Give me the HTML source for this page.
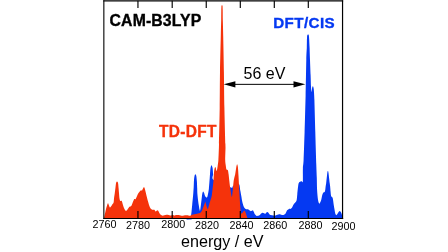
<!DOCTYPE html>
<html><head><meta charset="utf-8"><title>CAM-B3LYP spectrum</title>
<style>
html,body{margin:0;padding:0;background:#fff;}
body{width:448px;height:252px;overflow:hidden;font-family:"Liberation Sans",sans-serif;}
svg{display:block;}
text{font-family:"Liberation Sans",sans-serif;}
</style></head><body>
<svg width="448" height="252" viewBox="0 0 448 252">
<rect width="448" height="252" fill="#fff"/>
<path fill="#0539f2" d="M190.5,218.2C190.55,217.97 190.77,217.33 190.9,216.5C191.03,215.67 191.33,213.57 191.5,212.0C191.67,210.43 192.01,206.62 192.2,204.7C192.39,202.78 192.75,199.16 192.9,197.6C193.05,196.04 193.19,194.40 193.3,193.0C193.41,191.60 193.61,188.83 193.7,187.1C193.79,185.37 193.88,181.52 194.0,180.0C194.12,178.48 194.41,176.46 194.6,175.7C194.79,174.94 195.17,174.26 195.4,174.3C195.63,174.34 196.10,175.05 196.3,176.0C196.50,176.95 196.78,179.72 196.9,181.4C197.02,183.08 197.13,186.92 197.2,188.6C197.27,190.28 197.29,192.52 197.4,194.0C197.51,195.48 197.83,198.27 198.0,199.7C198.17,201.13 198.51,203.46 198.7,204.7C198.89,205.94 199.23,208.19 199.4,209.0C199.57,209.81 199.85,210.89 200.0,210.8C200.15,210.71 200.34,209.39 200.5,208.3C200.66,207.21 201.03,204.03 201.2,202.6C201.37,201.17 201.67,198.72 201.8,197.6C201.93,196.48 202.08,194.91 202.2,194.2C202.32,193.49 202.57,192.65 202.7,192.3C202.83,191.95 203.01,191.51 203.2,191.6C203.39,191.69 203.86,192.44 204.1,193.0C204.34,193.56 204.75,195.23 205.0,195.8C205.25,196.37 205.75,197.07 206.0,197.3C206.25,197.53 206.69,197.67 206.9,197.5C207.11,197.33 207.41,196.67 207.6,196.0C207.79,195.33 208.13,193.49 208.3,192.5C208.47,191.51 208.71,190.45 208.9,188.6C209.09,186.75 209.51,181.08 209.7,178.6C209.89,176.12 210.13,171.68 210.3,170.0C210.47,168.32 210.81,166.61 211.0,166.0C211.19,165.39 211.49,165.15 211.7,165.4C211.91,165.65 212.41,166.71 212.6,167.9C212.79,169.09 212.97,172.69 213.1,174.3C213.23,175.91 211.21,178.23 213.6,180.0C215.99,181.77 228.41,186.80 231.0,187.6C233.59,188.40 231.95,186.48 233.0,186.0C234.05,185.52 237.93,183.39 238.9,184.0C239.87,184.61 239.98,189.00 240.3,190.6C240.62,192.20 241.03,194.52 241.3,196.0C241.57,197.48 241.98,200.30 242.3,201.7C242.62,203.10 243.26,205.54 243.7,206.5C244.14,207.46 245.03,208.53 245.6,208.9C246.17,209.27 247.49,209.11 248.0,209.3C248.51,209.49 249.01,210.05 249.4,210.3C249.79,210.55 250.45,211.20 250.9,211.2C251.35,211.20 252.43,210.23 252.8,210.3C253.17,210.37 253.39,211.13 253.7,211.7C254.01,212.27 254.71,214.04 255.1,214.6C255.49,215.16 256.17,215.74 256.6,215.9C257.03,216.06 257.87,215.91 258.3,215.8C258.73,215.69 259.41,215.39 259.8,215.1C260.19,214.81 260.81,213.91 261.2,213.6C261.59,213.29 262.33,212.84 262.7,212.8C263.07,212.76 263.67,213.15 264.0,213.3C264.33,213.45 264.88,213.99 265.2,213.9C265.52,213.81 266.11,212.84 266.4,212.6C266.69,212.36 267.13,212.07 267.4,212.1C267.67,212.13 268.13,212.51 268.4,212.8C268.67,213.09 269.11,213.99 269.4,214.3C269.69,214.61 270.12,214.94 270.6,215.1C271.08,215.26 272.33,215.46 273.0,215.5C273.67,215.54 275.00,215.51 275.6,215.4C276.20,215.29 277.03,214.85 277.5,214.7C277.97,214.55 278.69,214.31 279.1,214.3C279.51,214.29 280.21,214.49 280.6,214.6C280.99,214.71 281.61,215.06 282.0,215.1C282.39,215.14 283.05,215.07 283.5,214.9C283.95,214.73 284.92,214.41 285.4,213.8C285.88,213.19 286.67,210.91 287.1,210.3C287.53,209.69 288.12,209.41 288.6,209.2C289.08,208.99 290.23,208.94 290.7,208.7C291.17,208.46 291.71,207.95 292.1,207.4C292.49,206.85 293.21,205.21 293.6,204.6C293.99,203.99 294.63,203.28 295.0,202.8C295.37,202.32 296.13,201.72 296.4,201.0C296.67,200.28 296.88,198.33 297.0,197.4C297.12,196.47 297.11,195.75 297.3,194.0C297.49,192.25 298.11,185.90 298.4,184.3C298.69,182.70 299.19,182.39 299.5,182.0C299.81,181.61 300.37,181.48 300.7,181.4C301.03,181.32 301.71,181.40 302.0,181.4C302.29,181.40 302.78,183.19 302.9,181.4C303.02,179.61 302.81,170.85 302.9,168.0C302.99,165.15 303.37,164.80 303.6,160.0C303.83,155.20 304.33,140.53 304.6,132.0C304.87,123.47 305.37,105.60 305.6,96.0C305.83,86.40 306.15,66.40 306.3,60.0C306.45,53.60 306.66,50.67 306.8,48.0C306.84,45.33 306.90,41.60 306.9,40.0C307.00,38.40 307.07,36.71 307.1,36.0C307.23,35.29 307.37,34.89 307.6,34.7C307.73,34.51 308.31,34.43 308.5,34.6C308.69,34.77 308.86,35.28 308.9,36.0C309.04,36.72 309.12,38.40 309.2,40.0C309.28,41.60 309.44,45.33 309.6,48.0C309.66,50.67 309.86,56.40 310.0,60.0C310.14,63.60 310.47,71.67 310.6,75.0C310.73,78.33 310.86,82.93 310.9,85.0C311.04,87.07 311.21,89.57 311.3,90.5C311.39,91.43 311.56,92.20 311.6,92.0C311.74,91.80 311.90,89.69 312.0,89.0C312.10,88.31 312.28,87.16 312.4,86.8C312.52,86.44 312.77,86.25 312.9,86.3C313.03,86.35 313.28,86.77 313.4,87.2C313.52,87.63 313.71,88.59 313.8,89.5C313.89,90.41 314.02,92.60 314.1,94.0C314.18,95.40 314.24,94.93 314.4,100.0C314.56,105.07 315.05,123.33 315.3,132.0C315.55,140.67 316.10,158.87 316.3,165.0C316.50,171.13 316.69,174.67 316.8,178.0C316.91,181.33 316.94,187.11 317.1,190.0C317.26,192.89 317.69,197.87 318.0,199.7C318.31,201.53 318.99,203.62 319.4,203.7C319.81,203.78 320.73,201.42 321.1,200.3C321.47,199.18 321.91,196.33 322.2,195.3C322.49,194.27 322.97,193.05 323.3,192.6C323.63,192.15 324.43,192.30 324.7,191.9C324.97,191.50 325.17,190.39 325.3,189.6C325.43,188.81 325.58,186.88 325.7,186.0C325.82,185.12 325.99,184.73 326.2,183.0C326.41,181.27 327.07,174.59 327.3,173.0C327.53,171.41 327.74,171.10 327.9,171.1C328.06,171.10 328.26,171.41 328.5,173.0C328.74,174.59 329.49,181.27 329.7,183.0C329.91,184.73 329.98,184.84 330.1,186.0C330.22,187.16 330.47,190.37 330.6,191.7C330.73,193.03 330.93,195.31 331.1,196.0C331.27,196.69 331.70,196.66 331.9,196.9C332.10,197.14 332.44,197.35 332.6,197.8C332.76,198.25 332.97,199.47 333.1,200.3C333.23,201.13 333.44,202.93 333.6,204.0C333.76,205.07 334.06,206.97 334.3,208.3C334.54,209.63 335.09,213.09 335.4,214.0C335.71,214.91 336.21,215.29 336.6,215.1C336.99,214.91 337.89,213.13 338.3,212.6C338.71,212.07 339.33,211.10 339.7,211.1C340.07,211.10 340.81,212.12 341.1,212.6C341.39,213.08 341.71,213.95 341.9,214.7C342.09,215.45 342.42,217.73 342.5,218.2Z"/>
<path fill="#f5330b" d="M104.0,218.2C104.07,217.91 104.23,217.23 104.5,216.0C104.77,214.77 105.55,210.69 106.0,209.0C106.45,207.31 107.50,203.77 107.9,203.3C108.30,202.83 108.72,204.93 109.0,205.5C109.28,206.07 109.60,207.67 110.0,207.6C110.40,207.53 111.52,205.67 112.0,205.0C112.48,204.33 113.33,203.45 113.6,202.6C113.87,201.75 113.84,199.88 114.0,198.6C114.16,197.32 114.61,194.37 114.8,193.0C114.99,191.63 115.25,189.50 115.4,188.3C115.55,187.10 115.78,184.81 115.9,184.0C116.02,183.19 116.15,182.53 116.3,182.2C116.45,181.87 116.80,181.50 117.0,181.5C117.20,181.50 117.64,181.87 117.8,182.2C117.96,182.53 118.09,183.19 118.2,184.0C118.31,184.81 118.49,187.10 118.6,188.3C118.71,189.50 118.88,191.63 119.0,193.0C119.12,194.37 119.34,197.53 119.5,198.6C119.66,199.67 120.00,200.71 120.2,201.0C120.40,201.29 120.77,200.76 121.0,200.8C121.23,200.84 121.55,200.49 121.9,201.3C122.25,202.11 123.05,205.62 123.6,206.9C124.15,208.18 125.24,210.90 126.0,210.9C126.76,210.90 128.58,207.59 129.3,206.9C130.02,206.21 130.77,206.70 131.4,205.7C132.03,204.70 133.43,200.29 134.0,199.4C134.57,198.51 135.18,199.72 135.7,199.0C136.22,198.28 137.23,195.15 137.9,194.0C138.57,192.85 140.14,190.88 140.7,190.4C141.26,189.92 141.66,190.84 142.1,190.4C142.54,189.96 143.56,187.01 144.0,187.1C144.44,187.19 144.88,189.23 145.4,191.1C145.92,192.97 147.29,198.90 147.9,201.1C148.51,203.30 149.44,206.45 150.0,207.6C150.56,208.75 151.53,209.42 152.1,209.7C152.67,209.98 153.82,209.47 154.3,209.7C154.78,209.93 155.22,211.31 155.7,211.4C156.18,211.49 157.33,210.05 157.9,210.4C158.47,210.75 159.44,213.31 160.0,214.0C160.56,214.69 161.53,215.43 162.1,215.6C162.67,215.77 163.71,215.41 164.3,215.3C164.89,215.19 165.93,214.84 166.5,214.8C167.07,214.76 168.08,214.89 168.6,215.0C169.12,215.11 169.83,215.61 170.4,215.6C170.97,215.59 172.38,214.90 172.9,214.9C173.42,214.90 173.83,215.57 174.3,215.6C174.77,215.63 175.83,215.18 176.4,215.1C176.97,215.02 178.03,214.93 178.6,215.0C179.17,215.07 180.13,215.49 180.7,215.6C181.27,215.71 182.33,215.84 182.9,215.8C183.47,215.76 184.44,215.37 185.0,215.3C185.56,215.23 186.43,215.23 187.1,215.3C187.77,215.37 189.35,215.88 190.0,215.8C190.65,215.72 191.07,214.98 192.0,214.7C192.93,214.42 195.84,213.98 197.0,213.7C198.16,213.42 199.91,213.32 200.7,212.6C201.49,211.88 202.33,209.63 202.9,208.3C203.47,206.97 204.67,203.45 205.0,202.6C205.33,201.75 205.12,201.23 205.4,201.9C205.68,202.57 206.77,206.65 207.1,207.6C207.43,208.55 207.61,209.48 207.9,209.0C208.19,208.52 208.95,205.20 209.3,204.0C209.65,202.80 210.18,201.07 210.5,200.0C210.82,198.93 211.42,197.52 211.7,196.0C211.98,194.48 212.37,190.55 212.6,188.6C212.83,186.65 213.20,183.69 213.4,181.4C213.60,179.11 213.90,173.24 214.1,171.4C214.30,169.56 214.69,168.11 214.9,167.6C215.11,167.09 215.51,167.21 215.7,167.6C215.89,167.99 216.14,170.11 216.3,170.5C216.46,170.89 216.71,171.14 216.9,170.5C217.09,169.86 217.50,167.10 217.7,165.7C217.90,164.30 218.24,162.36 218.4,160.0C218.56,157.64 218.82,150.13 218.9,148.0C218.98,145.87 218.89,149.33 219.0,144.0C219.11,138.67 219.57,117.60 219.7,108.0C219.83,98.40 219.85,81.60 220.0,72.0C220.15,62.40 220.65,42.93 220.8,36.0C220.95,29.07 221.08,23.47 221.2,20.0C221.22,16.53 221.26,11.80 221.3,10.0C221.34,8.20 221.40,7.13 221.4,6.5C221.50,5.87 221.59,5.46 221.7,5.3C221.81,5.14 222.19,5.14 222.3,5.3C222.41,5.46 222.50,5.87 222.6,6.5C222.60,7.13 222.66,8.20 222.7,10.0C222.74,11.80 222.78,16.53 222.8,20.0C222.92,23.47 223.06,29.07 223.2,36.0C223.34,42.93 223.74,62.40 223.9,72.0C224.06,81.60 224.20,98.40 224.4,108.0C224.60,117.60 225.25,138.67 225.4,144.0C225.55,149.33 225.53,145.87 225.5,148.0C225.47,150.13 225.16,157.64 225.2,160.0C225.24,162.36 225.63,164.43 225.8,165.7C225.97,166.97 226.22,168.90 226.5,169.5C226.78,170.10 227.62,169.56 227.9,170.2C228.18,170.84 228.40,172.81 228.6,174.3C228.80,175.79 229.17,179.49 229.4,181.4C229.63,183.31 230.05,186.81 230.3,188.6C230.55,190.39 231.07,193.71 231.3,194.8C231.53,195.89 231.80,197.51 232.0,196.8C232.20,196.09 232.56,191.74 232.8,189.5C233.04,187.26 233.48,182.03 233.8,180.0C234.12,177.97 234.87,176.02 235.2,174.3C235.53,172.58 236.05,168.43 236.3,167.1C236.55,165.77 236.89,164.30 237.1,164.3C237.31,164.30 237.71,165.58 237.9,167.1C238.09,168.62 238.35,173.31 238.5,175.7C238.65,178.09 238.85,182.29 239.0,185.0C239.15,187.71 239.44,193.27 239.6,196.0C239.76,198.73 240.03,203.34 240.2,205.5C240.37,207.66 240.69,211.12 240.9,212.2C241.11,213.28 241.49,213.67 241.8,213.6C242.11,213.53 242.81,212.07 243.2,211.7C243.59,211.33 244.38,210.67 244.7,210.8C245.02,210.93 245.35,212.07 245.6,212.7C245.85,213.33 246.35,214.77 246.6,215.5C246.85,216.23 247.38,217.84 247.5,218.2Z"/>
<polygon fill="#0539f2" opacity="0.7" points="185.6,218.6 192.3,218.6 191.5,219.6 187,219.7"/>
<g stroke="#000" stroke-width="1.15" fill="none"><line x1="137.95" y1="210.9" x2="137.95" y2="218.5"/><line x1="137.95" y1="0.8" x2="137.95" y2="8"/><line x1="172.2" y1="210.9" x2="172.2" y2="218.5"/><line x1="172.2" y1="0.8" x2="172.2" y2="8"/><line x1="206.25" y1="210.9" x2="206.25" y2="218.5"/><line x1="206.25" y1="0.8" x2="206.25" y2="8"/><line x1="240.3" y1="210.9" x2="240.3" y2="218.5"/><line x1="240.3" y1="0.8" x2="240.3" y2="8"/><line x1="274.3" y1="210.9" x2="274.3" y2="218.5"/><line x1="274.3" y1="0.8" x2="274.3" y2="8"/><line x1="308.3" y1="210.9" x2="308.3" y2="218.5"/><line x1="308.3" y1="0.8" x2="308.3" y2="8"/></g>
<g stroke="#000" fill="none"><line x1="103.85" y1="0.25" x2="103.85" y2="219.05" stroke-width="1.1"/><line x1="342.55" y1="0.25" x2="342.55" y2="219.05" stroke-width="1.2"/><line x1="103.3" y1="0.85" x2="343.15" y2="0.85" stroke-width="1.2"/><line x1="103.3" y1="218.5" x2="343.15" y2="218.5" stroke-width="1.1"/></g>
<g stroke="#000" stroke-width="1"><line x1="230" y1="84.35" x2="299" y2="84.35"/></g>
<polygon fill="#000" points="223.7,84.35 235.4,81.25 235.4,87.45"/>
<polygon fill="#000" points="305.3,84.35 293.5,81.25 293.5,87.45"/>
<g font-size="16" font-weight="bold">
<text x="109.6" y="26.2" font-size="15.8" letter-spacing="0.12" fill="#000" stroke="#000" stroke-width="0.35">CAM-B3LYP</text>
<text x="273.2" y="27.8" font-size="15.2" letter-spacing="0.4" fill="#0539f2" stroke="#0539f2" stroke-width="0.35">DFT/CIS</text>
<text transform="translate(159.0,136.8) scale(1,1.07)" font-size="15.5" letter-spacing="0.3" fill="#f5330b" stroke="#f5330b" stroke-width="0.35">TD-DFT</text>
</g>
<text x="243.5" y="78.7" font-size="16" fill="#000">56 eV</text>
<g font-size="10.8" fill="#000"><text x="104.5" y="228.0" text-anchor="middle">2760</text><text x="138.1" y="228.7" text-anchor="middle">2780</text><text x="173.2" y="228.4" text-anchor="middle">2800</text><text x="207.1" y="228.8" text-anchor="middle">2820</text><text x="241.5" y="228.8" text-anchor="middle">2840</text><text x="275.2" y="229.0" text-anchor="middle">2860</text><text x="310.4" y="229.2" text-anchor="middle">2880</text><text x="343.5" y="230.0" text-anchor="middle">2900</text></g>
<text x="181" y="246.9" font-size="16.15" fill="#000">energy / eV</text>
</svg>
</body></html>
